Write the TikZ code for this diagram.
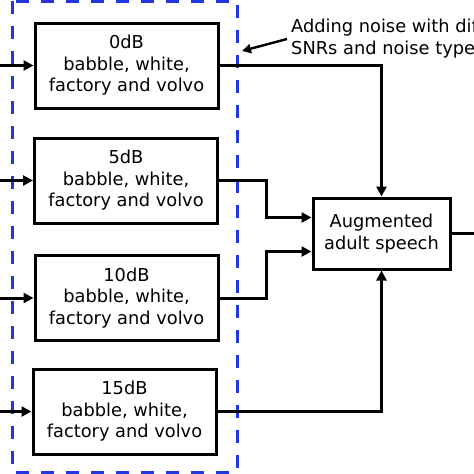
\documentclass[tikz,border=0pt]{standalone}
\usepackage{fontspec}
\setmainfont{DejaVu Sans}
\usetikzlibrary{arrows.meta}
\definecolor{dashblue}{RGB}{35,55,225}
\tikzset{
  every picture/.style={x=1pt,y=-1pt},
  block/.style={draw=black,line width=3pt,fill=white,minimum width=183pt,minimum height=85pt,inner sep=0pt,align=center,font=\fontsize{17.8pt}{21.5pt}\selectfont},
  augbox/.style={draw=black,line width=3pt,fill=white,minimum width=137pt,minimum height=71pt,inner sep=0pt,align=center,font=\fontsize{17.8pt}{21.5pt}\selectfont},
  conn/.style={line width=3pt,-{Triangle[length=10pt,width=10pt]}},
  plain/.style={line width=3pt},
  group/.style={draw=dashblue,line width=3pt,dash pattern=on 13pt off 12pt},
  notetext/.style={align=left,inner sep=0pt,anchor=west,font=\fontsize{17.8pt}{22pt}\selectfont}
}
\begin{document}
\begin{tikzpicture}
\useasboundingbox (0,0) rectangle (474,474);
\clip (0,0) rectangle (474,474);
\fill[white] (0,0) rectangle (474,474);
\draw[group] (12,1) rectangle (237,472);
\node[block] (b1) at (126.5,65.5) {0dB\\babble, white,\\factory and volvo};
\node[block] (b2) at (126,180.5) {5dB\\babble, white,\\factory and volvo};
\node[block] (b3) at (126.5,298) {10dB\\babble, white,\\factory and volvo};
\node[block] (b4) at (124.5,411.5) {15dB\\babble, white,\\factory and volvo};
\node[augbox] (aug) at (381.5,233.5) {Augmented\\adult speech};
\node[notetext] (note) at (291,39) {Adding noise with different\\SNRs and noise types};
\coordinate (in1) at (-2,65.5);
\coordinate (in2) at (-2,180.5);
\coordinate (in3) at (-2,298);
\coordinate (in4) at (-2,411.5);
\coordinate (out) at (476,233.5);
\coordinate (noteTip) at (242,51);
\draw[conn] (in1) -- (b1.west);
\draw[conn] (in2) -- (b2.west);
\draw[conn] (in3) -- (b3.west);
\draw[conn] (in4) -- (b4.west);
\draw[conn] (b1.east) -| (aug.north);
\draw[conn] (b4.east) -| (aug.south);
\draw[conn] (b2.east) -- (266,180.5) |- ([yshift=16pt]aug.west);
\draw[conn] (b3.east) -- (266,298) |- ([yshift=-18pt]aug.west);
\draw[plain] (aug.east) -- (out);
\draw[line width=2.4pt,-{Triangle[length=9pt,width=9pt]}] ([xshift=-4pt]note.west) -- (noteTip);
\end{tikzpicture}
\end{document}
